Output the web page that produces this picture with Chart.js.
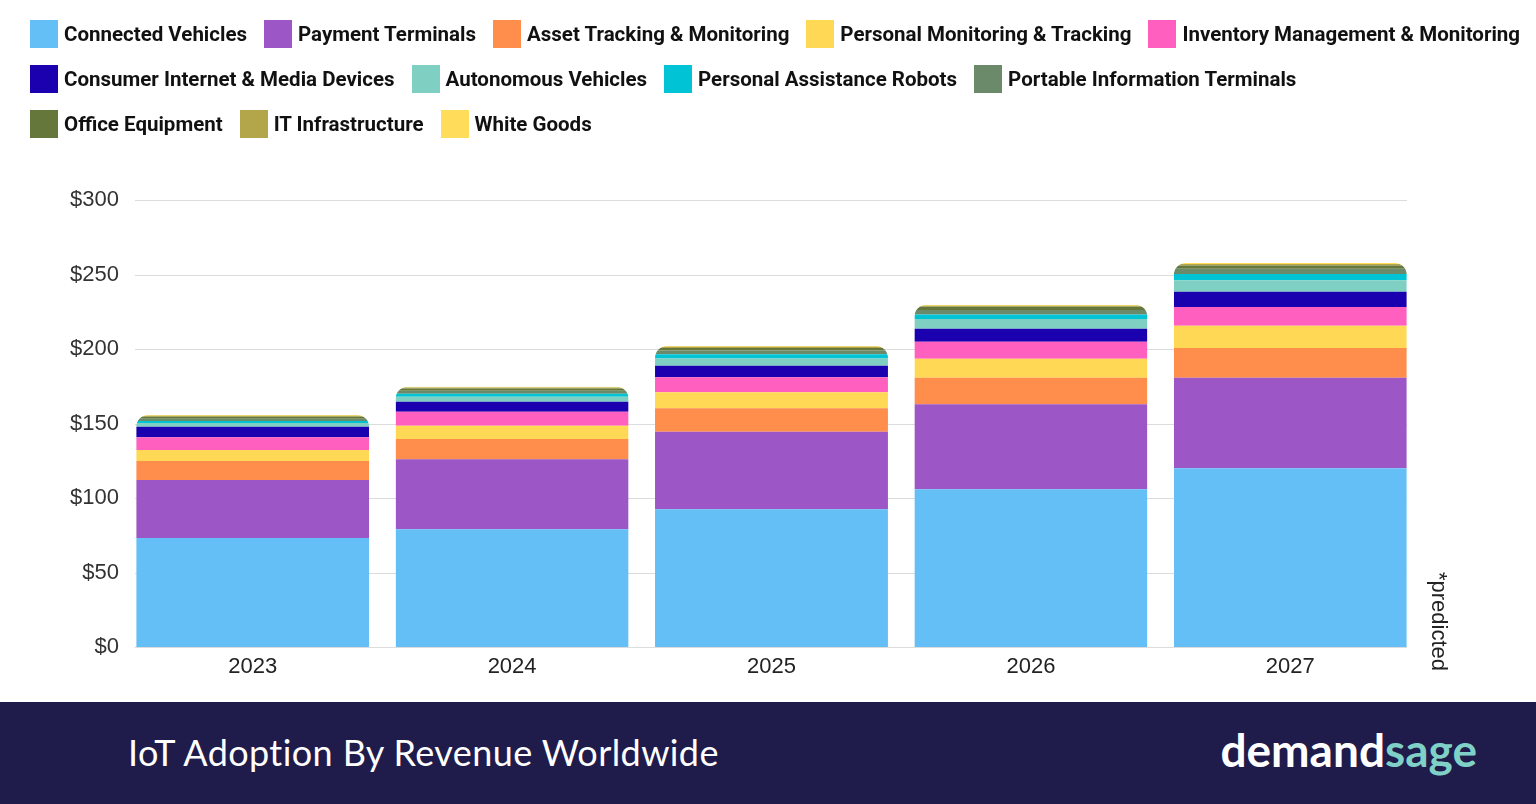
<!DOCTYPE html>
<html>
<head>
<meta charset="utf-8">
<title>IoT Adoption By Revenue Worldwide</title>
<script src="https://cdn.jsdelivr.net/npm/chart.js@4.4.1/dist/chart.umd.min.js"></script>
<style>
  body { margin: 0; background: #fff; width: 1536px; height: 804px; overflow: hidden; }
  #wrap { position: relative; width: 1536px; height: 702px; }
  #chart { position: absolute; left: 0; top: 0; }
  #legend { position: absolute; left: 30px; top: 20px; font-family: Roboto, sans-serif; }
  .row { display: flex; align-items: center; height: 28px; margin-bottom: 17px; }
  .item { display: flex; align-items: center; margin-right: 17px; font-size: 20.5px; font-weight: 700; color: #111; white-space: nowrap; }
  .box { width: 28px; height: 28px; margin-right: 6px; }
  #footer { position: absolute; left: 0; top: 702px; width: 1536px; height: 102px; background: #1f1b4b; }
  #title { position: absolute; left: 128px; top: 28px; font-family: Lato, sans-serif; font-size: 36px; letter-spacing: 0.4px; color: #fff; }
  #logo { position: absolute; right: 59px; top: 20px; font-family: Lato, sans-serif; font-weight: 700; font-size: 46px; color: #fff; }
  #logo span { color: #7fd0c6; }
</style>
</head>
<body>
<div id="wrap">
  <canvas id="chart" width="1536" height="702"></canvas>
  <div id="legend"></div>
</div>
<div id="footer">
  <div id="title">IoT Adoption By Revenue Worldwide</div>
  <div id="logo">demand<span>sage</span></div>
</div>
<script>
// revenue in billions of dollars, per year
const years = ['2023', '2024', '2025', '2026', '2027'];
const connectedVehicles = [73.2, 79.0, 92.4, 105.8, 119.9];
const paymentTerminals = [38.9, 47.0, 52.1, 57.1, 60.8];
const assetTracking = [12.7, 13.6, 15.7, 17.8, 20.0];
const personalMonitoring = [7.4, 8.9, 10.7, 12.8, 14.9];
const inventoryManagement = [8.5, 9.4, 10.1, 11.4, 12.6];
const consumerInternet = [7.2, 6.7, 7.8, 8.7, 10.3];
const autonomousVehicles = [2.4, 3.4, 4.8, 6.5, 7.6];
const assistanceRobots = [1.3, 2.0, 2.8, 3.0, 4.2];
const portableTerminals = [1.6, 2.0, 2.6, 3.0, 3.6];
const officeEquipment = [1.3, 1.5, 1.7, 2.2, 2.2];
const itInfrastructure = [0.7, 0.7, 0.8, 0.8, 1.0];
const whiteGoods = [0.5, 0.5, 0.5, 0.6, 0.6];
const yTicks = [0, 50, 100, 150, 200, 250, 300];

const series = [
  ['Connected Vehicles', connectedVehicles, '#64bff6'],
  ['Payment Terminals', paymentTerminals, '#9d56c6'],
  ['Asset Tracking & Monitoring', assetTracking, '#ff8d4b'],
  ['Personal Monitoring & Tracking', personalMonitoring, '#ffd955'],
  ['Inventory Management & Monitoring', inventoryManagement, '#ff5fbf'],
  ['Consumer Internet & Media Devices', consumerInternet, '#1a00ae'],
  ['Autonomous Vehicles', autonomousVehicles, '#7fd0c3'],
  ['Personal Assistance Robots', assistanceRobots, '#00c4d6'],
  ['Portable Information Terminals', portableTerminals, '#6a8a6a'],
  ['Office Equipment', officeEquipment, '#65773b'],
  ['IT Infrastructure', itInfrastructure, '#b2a54a'],
  ['White Goods', whiteGoods, '#ffdc5a']
];

// gridlines are a bit shorter than the plot area in the original
const gridLines = {
  id: 'gridLines',
  beforeDatasetsDraw(chart) {
    const ctx = chart.ctx;
    const area = chart.chartArea;
    const y = chart.scales.y;
    ctx.save();
    ctx.strokeStyle = '#dcdcdc';
    ctx.lineWidth = 1;
    y.ticks.forEach(t => {
      const py = Math.round(y.getPixelForValue(t.value)) + 0.5;
      ctx.beginPath();
      ctx.moveTo(area.left + 12, py);
      ctx.lineTo(area.right - 13, py);
      ctx.stroke();
    });
    ctx.restore();
  }
};

// clip each stack to a box with rounded top corners
const roundTops = {
  id: 'roundTops',
  beforeDatasetsDraw(chart) {
    const ctx = chart.ctx;
    const metas = chart.getSortedVisibleDatasetMetas();
    ctx.save();
    ctx.beginPath();
    metas[0].data.forEach((bar, i) => {
      let top = bar.y;
      metas.forEach(m => { top = Math.min(top, m.data[i].y); });
      ctx.roundRect(bar.x - bar.width / 2, top, bar.width, bar.base - top, [12, 12, 0, 0]);
    });
    ctx.clip();
  },
  afterDatasetsDraw(chart) {
    chart.ctx.restore();
  }
};

// "*predicted" note written sideways right of the plot
const predictedNote = {
  id: 'predictedNote',
  afterDraw(chart) {
    const ctx = chart.ctx;
    const area = chart.chartArea;
    ctx.save();
    ctx.translate(area.right + 18, area.bottom - 75);
    ctx.rotate(Math.PI / 2);
    ctx.font = '22px "Liberation Sans", Arial, sans-serif';
    ctx.fillStyle = '#222';
    ctx.textAlign = 'left';
    ctx.textBaseline = 'middle';
    ctx.fillText('*predicted', 0, 0);
    ctx.restore();
  }
};

const chart = new Chart(document.getElementById('chart'), {
  type: 'bar',
  data: {
    labels: years,
    datasets: series.map(s => ({
      label: s[0],
      data: s[1],
      backgroundColor: s[2],
      borderWidth: 0,
      barPercentage: 0.898,
      categoryPercentage: 1
    }))
  },
  options: {
    responsive: false,
    animation: false,
    layout: { padding: { top: 200, left: 0, right: 116, bottom: 0 } },
    plugins: {
      legend: { display: false },
      tooltip: { enabled: false }
    },
    scales: {
      x: {
        stacked: true,
        grid: { display: false, drawTicks: false },
        border: { display: false },
        ticks: { color: '#222', padding: 7, font: { family: '"Liberation Sans", Arial', size: 22 } },
        afterFit: s => { s.height = 55; }
      },
      y: {
        stacked: true,
        min: 0,
        max: 300,
        afterBuildTicks: s => { s.ticks = yTicks.map(v => ({ value: v })); },
        grid: { display: false, drawTicks: false },
        border: { display: false },
        ticks: {
          color: '#333',
          padding: 4,
          font: { family: '"Liberation Sans", Arial', size: 22 },
          callback: v => '$' + v
        },
        afterFit: s => { s.width = 123; }
      }
    }
  },
  plugins: [gridLines, roundTops, predictedNote]
});

// html legend, laid out in the same rows as the original
const legendRows = [5, 4, 3];
const legendEl = document.getElementById('legend');
let k = 0;
legendRows.forEach(n => {
  const row = document.createElement('div');
  row.className = 'row';
  chart.data.datasets.slice(k, k + n).forEach(ds => {
    const item = document.createElement('div');
    item.className = 'item';
    const box = document.createElement('div');
    box.className = 'box';
    box.style.background = ds.backgroundColor;
    item.appendChild(box);
    item.appendChild(document.createTextNode(ds.label));
    row.appendChild(item);
  });
  k += n;
  legendEl.appendChild(row);
});
</script>
</body>
</html>
